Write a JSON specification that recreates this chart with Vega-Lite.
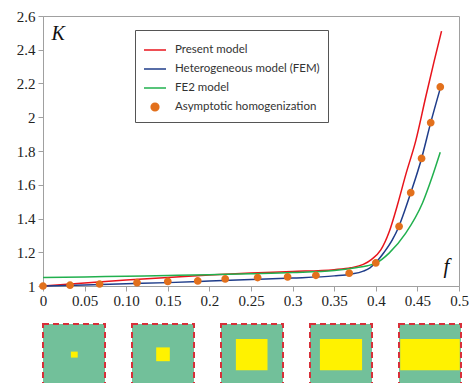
{
  "$schema": "https://vega.github.io/schema/vega-lite/v6.json",
  "padding": {"left": 5, "top": 8, "right": 0, "bottom": 0},
  "background": "white",
  "spacing": 14,
  "config": {
    "view": {"stroke": "#a0a0a0", "strokeWidth": 1},
    "axis": {"grid": false, "domainColor": "#a0a0a0", "tickColor": "#a0a0a0", "tickSize": 5, "labelFont": "Liberation Serif", "labelFontSize": 15, "labelColor": "#222", "titleFont": "Liberation Serif", "titleFontStyle": "italic", "titleFontWeight": "normal", "titleColor": "#111"},
    "legend": {"title": null, "orient": "none", "legendX": 92, "legendY": 14, "strokeColor": "#555", "fillColor": "white", "padding": 8, "cornerRadius": 0, "labelFont": "Lato", "labelFontSize": 11.5, "labelColor": "#333", "labelOffset": 8, "rowPadding": 1, "labelLimit": 300, "symbolSize": 484, "symbolStrokeWidth": 1.5}
  },
  "datasets": {
    "curves": [
      {"series": "Present model", "f": 0, "K": 1.0},
      {"series": "Present model", "f": 0.05, "K": 1.018},
      {"series": "Present model", "f": 0.1, "K": 1.035},
      {"series": "Present model", "f": 0.15, "K": 1.051},
      {"series": "Present model", "f": 0.2, "K": 1.065},
      {"series": "Present model", "f": 0.25, "K": 1.077},
      {"series": "Present model", "f": 0.3, "K": 1.086},
      {"series": "Present model", "f": 0.35, "K": 1.097},
      {"series": "Present model", "f": 0.37, "K": 1.108},
      {"series": "Present model", "f": 0.385, "K": 1.128},
      {"series": "Present model", "f": 0.395, "K": 1.158},
      {"series": "Present model", "f": 0.406, "K": 1.214},
      {"series": "Present model", "f": 0.416, "K": 1.32},
      {"series": "Present model", "f": 0.426, "K": 1.48},
      {"series": "Present model", "f": 0.436, "K": 1.66},
      {"series": "Present model", "f": 0.448, "K": 1.86},
      {"series": "Present model", "f": 0.46, "K": 2.12},
      {"series": "Present model", "f": 0.47, "K": 2.33},
      {"series": "Present model", "f": 0.479, "K": 2.51},
      {"series": "Heterogeneous model (FEM)", "f": 0, "K": 1.0},
      {"series": "Heterogeneous model (FEM)", "f": 0.05, "K": 1.006},
      {"series": "Heterogeneous model (FEM)", "f": 0.1, "K": 1.013},
      {"series": "Heterogeneous model (FEM)", "f": 0.15, "K": 1.02},
      {"series": "Heterogeneous model (FEM)", "f": 0.2, "K": 1.029},
      {"series": "Heterogeneous model (FEM)", "f": 0.25, "K": 1.038},
      {"series": "Heterogeneous model (FEM)", "f": 0.3, "K": 1.047},
      {"series": "Heterogeneous model (FEM)", "f": 0.35, "K": 1.06},
      {"series": "Heterogeneous model (FEM)", "f": 0.37, "K": 1.07},
      {"series": "Heterogeneous model (FEM)", "f": 0.385, "K": 1.088},
      {"series": "Heterogeneous model (FEM)", "f": 0.393, "K": 1.108},
      {"series": "Heterogeneous model (FEM)", "f": 0.4, "K": 1.139},
      {"series": "Heterogeneous model (FEM)", "f": 0.41, "K": 1.2},
      {"series": "Heterogeneous model (FEM)", "f": 0.42, "K": 1.275},
      {"series": "Heterogeneous model (FEM)", "f": 0.4275, "K": 1.35},
      {"series": "Heterogeneous model (FEM)", "f": 0.435, "K": 1.45},
      {"series": "Heterogeneous model (FEM)", "f": 0.442, "K": 1.552},
      {"series": "Heterogeneous model (FEM)", "f": 0.455, "K": 1.756},
      {"series": "Heterogeneous model (FEM)", "f": 0.466, "K": 1.968},
      {"series": "Heterogeneous model (FEM)", "f": 0.478, "K": 2.18},
      {"series": "FE2 model", "f": 0, "K": 1.05},
      {"series": "FE2 model", "f": 0.05, "K": 1.054},
      {"series": "FE2 model", "f": 0.1, "K": 1.058},
      {"series": "FE2 model", "f": 0.15, "K": 1.062},
      {"series": "FE2 model", "f": 0.2, "K": 1.067},
      {"series": "FE2 model", "f": 0.25, "K": 1.073},
      {"series": "FE2 model", "f": 0.3, "K": 1.08},
      {"series": "FE2 model", "f": 0.35, "K": 1.092},
      {"series": "FE2 model", "f": 0.376, "K": 1.108},
      {"series": "FE2 model", "f": 0.39, "K": 1.12},
      {"series": "FE2 model", "f": 0.4, "K": 1.135},
      {"series": "FE2 model", "f": 0.416, "K": 1.195},
      {"series": "FE2 model", "f": 0.436, "K": 1.313},
      {"series": "FE2 model", "f": 0.456, "K": 1.49},
      {"series": "FE2 model", "f": 0.468, "K": 1.65},
      {"series": "FE2 model", "f": 0.4775, "K": 1.793}
    ],
    "asym": [
      {"series": "Asymptotic homogenization", "f": 0, "K": 1.0},
      {"series": "Asymptotic homogenization", "f": 0.0325, "K": 1.005},
      {"series": "Asymptotic homogenization", "f": 0.068, "K": 1.012},
      {"series": "Asymptotic homogenization", "f": 0.113, "K": 1.02},
      {"series": "Asymptotic homogenization", "f": 0.15, "K": 1.027},
      {"series": "Asymptotic homogenization", "f": 0.186, "K": 1.03},
      {"series": "Asymptotic homogenization", "f": 0.219, "K": 1.042},
      {"series": "Asymptotic homogenization", "f": 0.258, "K": 1.05},
      {"series": "Asymptotic homogenization", "f": 0.294, "K": 1.054},
      {"series": "Asymptotic homogenization", "f": 0.328, "K": 1.063},
      {"series": "Asymptotic homogenization", "f": 0.368, "K": 1.076},
      {"series": "Asymptotic homogenization", "f": 0.4, "K": 1.137},
      {"series": "Asymptotic homogenization", "f": 0.428, "K": 1.353},
      {"series": "Asymptotic homogenization", "f": 0.442, "K": 1.553},
      {"series": "Asymptotic homogenization", "f": 0.455, "K": 1.756},
      {"series": "Asymptotic homogenization", "f": 0.466, "K": 1.968},
      {"series": "Asymptotic homogenization", "f": 0.4775, "K": 2.18}
    ],
    "cells": [
      {"panel": 1, "part": "matrix", "xmin": 0, "xmax": 1, "ymin": 0, "ymax": 1},
      {"panel": 1, "part": "inclusion", "xmin": 0.45, "xmax": 0.56, "ymin": 0.44, "ymax": 0.54},
      {"panel": 2, "part": "matrix", "xmin": 0, "xmax": 1, "ymin": 0, "ymax": 1},
      {"panel": 2, "part": "inclusion", "xmin": 0.39, "xmax": 0.61, "ymin": 0.38, "ymax": 0.61},
      {"panel": 3, "part": "matrix", "xmin": 0, "xmax": 1, "ymin": 0, "ymax": 1},
      {"panel": 3, "part": "inclusion", "xmin": 0.24, "xmax": 0.75, "ymin": 0.23, "ymax": 0.75},
      {"panel": 4, "part": "matrix", "xmin": 0, "xmax": 1, "ymin": 0, "ymax": 1},
      {"panel": 4, "part": "inclusion", "xmin": 0.16, "xmax": 0.84, "ymin": 0.23, "ymax": 0.75},
      {"panel": 5, "part": "matrix", "xmin": 0, "xmax": 1, "ymin": 0, "ymax": 1},
      {"panel": 5, "part": "inclusion", "xmin": 0.02, "xmax": 0.98, "ymin": 0.23, "ymax": 0.75}
    ]
  },
  "vconcat": [
    {
      "width": 416,
      "height": 270,
      "encoding": {
        "x": {"field": "f", "type": "quantitative",
          "scale": {"domain": [0, 0.5], "nice": false, "zero": false},
          "axis": {"title": "f", "titleFontSize": 21, "titleX": 400, "titleY": -14, "titleAlign": "left", "titleBaseline": "alphabetic",
            "values": [0, 0.05, 0.1, 0.15, 0.2, 0.25, 0.3, 0.35, 0.4, 0.45, 0.5],
            "labelExpr": "datum.value == 0.1 ? '0.10' : format(datum.value, '~g')", "labelPadding": 2, "labelFlush": false}},
        "y": {"field": "K", "type": "quantitative",
          "scale": {"domain": [1, 2.6], "nice": false, "zero": false},
          "axis": {"title": "K", "titleFontSize": 20, "titleAngle": 0, "titleX": 8, "titleY": 23, "titleAlign": "left", "titleBaseline": "alphabetic",
            "values": [1, 1.2, 1.4, 1.6, 1.8, 2, 2.2, 2.4, 2.6], "format": "~g", "labelPadding": 3, "minExtent": 37, "maxExtent": 37}},
        "color": {"field": "series", "type": "nominal",
          "scale": {"domain": ["Present model", "Heterogeneous model (FEM)", "FE2 model", "Asymptotic homogenization"],
            "range": ["#e8141c", "#1f3d8a", "#21b04e", "#e2701c"]},
          "legend": {"encode": {"symbols": {"update": {"stroke": {"value": {"expr": "scale('color', datum.value)"}}, "strokeWidth": {"value": 1.5}}}}}
        }
      },
      "layer": [
        {"data": {"name": "curves"}, "mark": {"type": "line", "strokeWidth": 1.5, "interpolate": "monotone"}},
        {"data": {"name": "asym"}, "mark": {"type": "point", "filled": true, "opacity": 1, "size": 484},
          "encoding": {
            "shape": {"field": "series", "type": "nominal",
              "scale": {"domain": ["Present model", "Heterogeneous model (FEM)", "FE2 model", "Asymptotic homogenization"],
                "range": ["stroke", "stroke", "stroke", "M0.35,0A0.35,0.35,0,1,1,-0.35,0A0.35,0.35,0,1,1,0.35,0Z"]},
              "legend": {"encode": {"symbols": {"update": {"stroke": {"value": {"expr": "scale('color', datum.value)"}}, "strokeWidth": {"value": 1.5}}}}}}
          }}
      ]
    },
    {
      "spacing": 25,
      "hconcat": [
        {"width": 62, "height": 60, "view": {"stroke": null}, "data": {"name": "cells"}, "transform": [{"filter": "datum.panel === 1"}],
          "encoding": {"x": {"field": "xmin", "type": "quantitative", "scale": {"domain": [0, 1], "nice": false, "zero": false}, "axis": null}, "x2": {"field": "xmax"}, "y": {"field": "ymin", "type": "quantitative", "scale": {"domain": [0, 1], "nice": false, "zero": false}, "axis": null}, "y2": {"field": "ymax"}},
          "layer": [
            {"transform": [{"filter": "datum.part === 'matrix'"}], "mark": {"type": "rect", "fill": "#72c09a", "stroke": "#d7303a", "strokeWidth": 2, "strokeDash": [6, 4]}},
            {"transform": [{"filter": "datum.part === 'inclusion'"}], "mark": {"type": "rect", "fill": "#fff200"}}
          ]},
        {"width": 62, "height": 60, "view": {"stroke": null}, "data": {"name": "cells"}, "transform": [{"filter": "datum.panel === 2"}],
          "encoding": {"x": {"field": "xmin", "type": "quantitative", "scale": {"domain": [0, 1], "nice": false, "zero": false}, "axis": null}, "x2": {"field": "xmax"}, "y": {"field": "ymin", "type": "quantitative", "scale": {"domain": [0, 1], "nice": false, "zero": false}, "axis": null}, "y2": {"field": "ymax"}},
          "layer": [
            {"transform": [{"filter": "datum.part === 'matrix'"}], "mark": {"type": "rect", "fill": "#72c09a", "stroke": "#d7303a", "strokeWidth": 2, "strokeDash": [6, 4]}},
            {"transform": [{"filter": "datum.part === 'inclusion'"}], "mark": {"type": "rect", "fill": "#fff200"}}
          ]},
        {"width": 62, "height": 60, "view": {"stroke": null}, "data": {"name": "cells"}, "transform": [{"filter": "datum.panel === 3"}],
          "encoding": {"x": {"field": "xmin", "type": "quantitative", "scale": {"domain": [0, 1], "nice": false, "zero": false}, "axis": null}, "x2": {"field": "xmax"}, "y": {"field": "ymin", "type": "quantitative", "scale": {"domain": [0, 1], "nice": false, "zero": false}, "axis": null}, "y2": {"field": "ymax"}},
          "layer": [
            {"transform": [{"filter": "datum.part === 'matrix'"}], "mark": {"type": "rect", "fill": "#72c09a", "stroke": "#d7303a", "strokeWidth": 2, "strokeDash": [6, 4]}},
            {"transform": [{"filter": "datum.part === 'inclusion'"}], "mark": {"type": "rect", "fill": "#fff200"}}
          ]},
        {"width": 62, "height": 60, "view": {"stroke": null}, "data": {"name": "cells"}, "transform": [{"filter": "datum.panel === 4"}],
          "encoding": {"x": {"field": "xmin", "type": "quantitative", "scale": {"domain": [0, 1], "nice": false, "zero": false}, "axis": null}, "x2": {"field": "xmax"}, "y": {"field": "ymin", "type": "quantitative", "scale": {"domain": [0, 1], "nice": false, "zero": false}, "axis": null}, "y2": {"field": "ymax"}},
          "layer": [
            {"transform": [{"filter": "datum.part === 'matrix'"}], "mark": {"type": "rect", "fill": "#72c09a", "stroke": "#d7303a", "strokeWidth": 2, "strokeDash": [6, 4]}},
            {"transform": [{"filter": "datum.part === 'inclusion'"}], "mark": {"type": "rect", "fill": "#fff200"}}
          ]},
        {"width": 62, "height": 60, "view": {"stroke": null}, "data": {"name": "cells"}, "transform": [{"filter": "datum.panel === 5"}],
          "encoding": {"x": {"field": "xmin", "type": "quantitative", "scale": {"domain": [0, 1], "nice": false, "zero": false}, "axis": null}, "x2": {"field": "xmax"}, "y": {"field": "ymin", "type": "quantitative", "scale": {"domain": [0, 1], "nice": false, "zero": false}, "axis": null}, "y2": {"field": "ymax"}},
          "layer": [
            {"transform": [{"filter": "datum.part === 'matrix'"}], "mark": {"type": "rect", "fill": "#72c09a", "stroke": "#d7303a", "strokeWidth": 2, "strokeDash": [6, 4]}},
            {"transform": [{"filter": "datum.part === 'inclusion'"}], "mark": {"type": "rect", "fill": "#fff200"}}
          ]}
      ]
    }
  ]
}
